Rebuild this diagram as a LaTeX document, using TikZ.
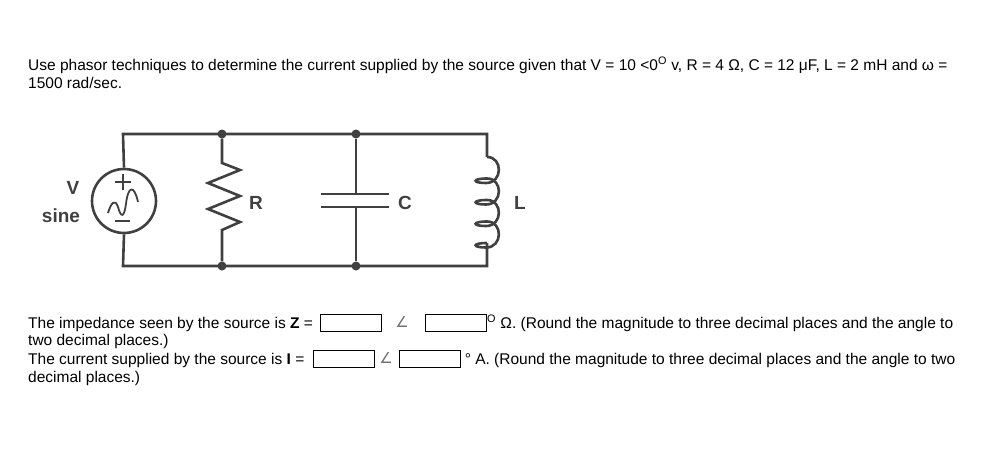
\documentclass[tikz,border=0pt]{standalone}
\usepackage{fontspec}
\setmainfont{Liberation Sans}
\newfontfamily\djv{DejaVu Sans}
\begin{document}
\begin{tikzpicture}[x=1pt,y=-1pt,
  wire/.style={line width=2.6pt,draw=black!75},
  dot/.style={circle,fill=black!75,inner sep=0pt,minimum size=9pt},
  lbl/.style={font=\bfseries\fontsize{19}{21}\selectfont,text=black!75,inner sep=0pt},
  txt/.style={font=\fontsize{15.5}{18}\selectfont,inner sep=0pt,anchor=base west},
  box/.style={draw,line width=1pt,minimum width=61pt,minimum height=17pt,inner sep=0pt},
  angs/.style={font=\djv\fontsize{15}{16}\selectfont,text=black!55,inner sep=0pt}]
\useasboundingbox (0,0) rectangle (1000,458);
\node[txt] (q1) at (28,70) {Use phasor techniques to determine the current supplied by the source given that V = 10 <0\textsuperscript{O} v, R = 4 Ω, C = 12 μF, L = 2 mH and ω =};
\node[txt] (q2) at (28,88) {1500 rad/sec.};
% circuit
\coordinate (tl) at (123,134); \coordinate (bl) at (123,266);
\coordinate (tr) at (487,134); \coordinate (br) at (487,266);
\node[dot] (t1) at (222,134) {}; \node[dot] (t2) at (356,134) {};
\node[dot] (b1) at (222,266) {}; \node[dot] (b2) at (356,266) {};
\node[circle,draw=black!75,line width=2.6pt,minimum size=64pt,inner sep=0pt] (src) at (124,201) {};
\draw[wire] (src.north) -- (tl) -- (tr) -- (487,157);
\draw[wire] (src.south) -- (bl) -- (br) -- (487,243);
\draw[line width=1.8pt,black!75] (115,182)--(131,182) (123,174)--(123,190) (115,221)--(130,221);
\draw[line width=1.8pt,black!75] (108,213) .. controls (111,203) and (115,198) .. (118,207) .. controls (121,218) and (124,218) .. (126,204) .. controls (128,186) and (134,184) .. (138,202);
% resistor
\draw[wire] (t1) -- (222,163) -- (240,170) -- (208,183) -- (240,196) -- (208,209) -- (240,222) -- (222,230) -- (b1);
\node[lbl] (R) at (256,203) {R};
% capacitor
\draw[wire] (t2) -- (356,194) (321,194) -- (389,194) (321,207) -- (389,207) (356,207) -- (b2);
\node[lbl] (C) at (405,203) {C};
% inductor
\foreach \y in {157,178.5,200,221.5}{
  \draw[wire] (487,\y) .. controls (503,\y) and (503,\y+26) .. (486,\y+26)
     .. controls (472,\y+26) and (472,\y+21.5) .. (487,\y+21.5);
}
\node[lbl] (L) at (520,203) {L};
\node[lbl] (V) at (73,188) {V};
\node[lbl] (sine) at (61,216) {sine};
% answer lines
\node[txt] (a1) at (28,328) {The impedance seen by the source is \textbf{Z} =};
\node[box,anchor=west] (z1) at (320,323) {};
\node[angs] (ang1) at (402,322) {∠};
\node[box,anchor=west] (z2) at (425,323) {};
\node[txt] (a1b) at (487,328) {\textsuperscript{O} Ω. (Round the magnitude to three decimal places and the angle to};
\node[txt] (a2) at (28,345) {two decimal places.)};
\node[txt] (a3) at (28,364) {The current supplied by the source is \textbf{I} =};
\node[box,anchor=west] (i1) at (313,359) {};
\node[angs] (ang2) at (386,358) {∠};
\node[box,anchor=west] (i2) at (399,359) {};
\node[txt] (a3b) at (462,364) {\,° A. (Round the magnitude to three decimal places and the angle to two};
\node[txt] (a4) at (28,382) {decimal places.)};
\end{tikzpicture}
\end{document}
